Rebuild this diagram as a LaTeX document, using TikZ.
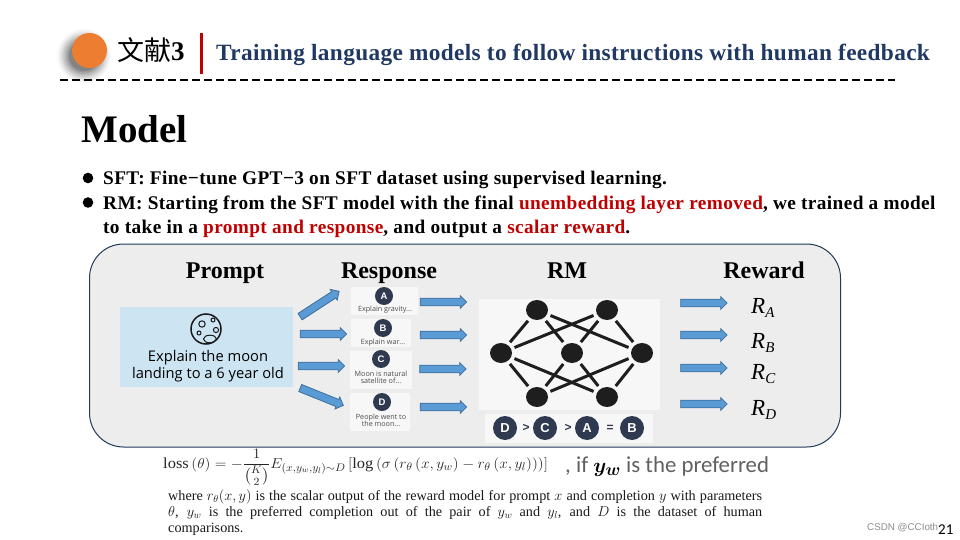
\documentclass[tikz,border=0pt]{standalone}
\usepackage{amsmath}
\usepackage{graphicx}
\usepackage{fontspec}
\setmainfont{Liberation Serif}
\newfontfamily\spacedA[LetterSpace=2]{Liberation Serif}
\newfontfamily\spacedB[LetterSpace=1.5]{Liberation Serif}
\newfontfamily\cjkfont{Noto Sans CJK SC}
\newfontfamily\uifont{Open Sans}
\newfontfamily\lightfont{Carlito}
\newfontfamily\wmfont{Liberation Sans}
\usetikzlibrary{shapes.arrows,shapes.geometric,calc}
\definecolor{navy}{HTML}{1F3864}
\definecolor{redbar}{HTML}{C00000}
\definecolor{panelfill}{HTML}{EDEDED}
\definecolor{panelline}{HTML}{1F3B57}
\definecolor{arrowfill}{HTML}{5B9BD5}
\definecolor{arrowline}{HTML}{3E6E9C}
\definecolor{cardfill}{HTML}{F7F7F7}
\definecolor{badgefill}{HTML}{2F3A50}
\definecolor{skyfill}{HTML}{CDE4F2}
\definecolor{netnode}{HTML}{1E1E1E}
\definecolor{dotorange}{HTML}{ED7D31}
\newcommand{\fs}[1]{\fontsize{#1}{#1}\selectfont}
\newcommand{\rsym}[1]{{\itshape R\raisebox{-4pt}{\fs{15}#1}}}
\tikzset{
  x=1pt,y=-1pt,
  blockarrow/.style={single arrow,draw=arrowline,fill=arrowfill,line width=.8pt,
    single arrow head extend=2.6pt,single arrow head indent=0pt,
    inner xsep=0pt,inner ysep=3.4pt,outer sep=0pt,minimum height=46.5pt},
  card/.style={fill=cardfill,draw=none,inner sep=0pt,outer sep=0pt},
  badge/.style={circle,fill=badgefill,text=white,font=\wmfont\bfseries\fs{9.5},inner sep=0pt,minimum size=18pt},
  rankbadge/.style={badge,minimum size=24pt,font=\wmfont\bfseries\fs{13}},
  rankop/.style={font=\wmfont\bfseries\fs{12},text=badgefill,inner sep=0pt},
  cardtext/.style={font=\uifont\fs{7.2},text=black!70,align=center,inner sep=0pt},
  heading/.style={anchor=base,font=\bfseries\fs{24},inner sep=0pt},
  netn/.style={ellipse,fill=netnode,minimum width=22pt,minimum height=20pt,inner sep=0pt},
  netl/.style={draw=netnode,line width=3pt,shorten >=3.5pt,shorten <=3.5pt},
  bodytext/.style={anchor=base west,font=\spacedA\bfseries\fs{19.3},inner sep=0pt},
  rlabel/.style={anchor=base west,font=\fs{23},inner sep=0pt},
}
\begin{document}
\begin{tikzpicture}
\useasboundingbox (0,0) rectangle (960,540);
\fill[white] (0,0) rectangle (960,540);
% header
\foreach \r/\o in {36/.025,34/.035,32/.045,30/.055,28/.065,26/.075,24/.085,22/.1,20/.12}
  \fill[black,opacity=\o] (84,56) circle (\r*.75);
\node[circle,fill=dotorange,minimum size=35pt,inner sep=0pt] (dot) at (89.5,50.5) {};
\node[anchor=base west,inner sep=0pt,font=\fs{27}] (lit) at (117,61) {{\cjkfont 文献}\bfseries 3};
\fill[redbar] (199.5,33) rectangle (202.5,74);
\node[anchor=base west,inner sep=0pt,text=navy,font=\spacedB\bfseries\fs{23.3}] (title) at (216,60.5) {Training language models to follow instructions with human feedback};
\draw[black,line width=2pt,dash pattern=on 8pt off 4pt] (60,80) -- (895,80);
\node[anchor=base west,inner sep=0pt,font=\bfseries\fs{39}] (model) at (81,143) {Model};
% bullets
\fill[black] (88,178) circle (5.3);
\fill[black] (88,202.5) circle (5.3);
\node[bodytext] (b1) at (103,185) {SFT: Fine−tune GPT−3 on SFT dataset using supervised learning.};
\node[bodytext] (b2) at (103,209) {RM: Starting from the SFT model with the final {\color{redbar}unembedding layer removed}, we trained a model};
\node[bodytext] (b3) at (103,233) {to take in a {\color{redbar}prompt and response}, and output a {\color{redbar}scalar reward}.};
% panel
\draw[panelline,fill=panelfill,line width=1pt,rounded corners=34pt] (89.5,244) rectangle (840.5,447);
\node[heading] (hp) at (225,278) {Prompt};
\node[heading] (hr) at (389,278) {Response};
\node[heading] (hm) at (567,278) {RM};
\node[heading] (hw) at (764,278) {Reward};
% prompt
\fill[skyfill] (120,307) rectangle (293,387);
\draw[black!90,line width=1.5pt] (206,329) circle (15);
\draw[black!90,line width=1pt] (202,324) circle (3.2) (216,330) circle (2.6) (199,333) circle (2) (213,320) circle (2);
\begin{scope}
  \clip (206,329) circle (15);
  \draw[black!90,line width=1pt] (210,339) ellipse (6.5 and 3.8);
\end{scope}
\node[anchor=base,font=\uifont\fs{14.7},inner sep=0pt] (p1) at (208,361) {Explain the moon};
\node[anchor=base,font=\uifont\fs{14.7},inner sep=0pt] (p2) at (208,378) {landing to a 6 year old};
% cards
\fill[card] (351,287) rectangle (418,315);
\fill[card] (351,319) rectangle (411,347);
\fill[card] (350,351) rectangle (412,389);
\fill[card] (350,393) rectangle (410,431);
\node[badge] (ba) at (384,296) {A};
\node[badge] (bb) at (383,328) {B};
\node[badge] (bc) at (381,359) {C};
\node[badge] (bd) at (382,402) {D};
\node[cardtext] (ta) at (385,310) {Explain gravity...};
\node[cardtext] (tb) at (383,342.5) {Explain war...};
\node[cardtext] (tc) at (381,377) {\fontsize{7.2}{8.2}\selectfont Moon is natural\\satellite of...};
\node[cardtext] (td) at (381,420.5) {\fontsize{7.2}{8.2}\selectfont People went to\\the moon...};
% arrows prompt -> responses
\node[blockarrow,rotate=33] (a1) at (318,305) {};
\node[blockarrow] (a2) at (321.5,334) {};
\node[blockarrow] (a3) at (319.5,366) {};
\node[blockarrow,rotate=-22] (a4) at (320,396) {};
% arrows responses -> RM
\node[blockarrow] (a5) at (441.5,302) {};
\node[blockarrow] (a6) at (441.5,335) {};
\node[blockarrow] (a7) at (441,369) {};
\node[blockarrow] (a8) at (441.5,407) {};
% RM network
\fill[card] (479,299) rectangle (660,410);
\node[netn] (n1) at (537,310) {};
\node[netn] (n2) at (607,310) {};
\node[netn] (n3) at (501,353) {};
\node[netn] (n4) at (572,353) {};
\node[netn] (n5) at (642,353) {};
\node[netn] (n6) at (537,397) {};
\node[netn] (n7) at (607,397) {};
\foreach \a/\b in {n1/n3,n1/n4,n1/n5,n2/n3,n2/n4,n2/n5,n3/n6,n3/n7,n4/n6,n4/n7,n5/n6,n5/n7}
  \draw[netl] (\a) -- (\b);
% ranking
\fill[card] (485,414) rectangle (653,443);
\node[rankbadge] (r1) at (505,428) {D};
\node[rankop] (o1) at (526,428) {>};
\node[rankbadge] (r2) at (545,428) {C};
\node[rankop] (o2) at (568,428) {>};
\node[rankbadge] (r3) at (587,428) {A};
\node[rankop] (o3) at (610,428) {=};
\node[rankbadge] (r4) at (632,428) {B};
% arrows RM -> reward
\node[blockarrow] (a9) at (702,303) {};
\node[blockarrow] (a10) at (702,335) {};
\node[blockarrow] (a11) at (702,368) {};
\node[blockarrow] (a12) at (702,404) {};
\node[rlabel] (ra) at (751,313) {\rsym{A}};
\node[rlabel] (rb) at (751,348) {\rsym{B}};
\node[rlabel] (rc) at (751,379) {\rsym{C}};
\node[rlabel] (rd) at (751,415) {\rsym{D}};
% formula
\node[anchor=base west,inner sep=0pt,text=black!85,font=\fs{15.4}] (loss) at (163,468)
  {\scalebox{1.07}[1]{$\operatorname{loss}\left(\theta\right)=-\dfrac{1}{\binom{K}{2}}E_{(x,y_w,y_l)\sim D}\left[\log\left(\sigma\left(r_\theta\left(x,y_w\right)-r_\theta\left(x,y_l\right)\right)\right)\right]$}};
\node[anchor=base west,inner sep=0pt,text=black!62,font=\lightfont\fs{22.8}] (pref) at (565,472)
  {, if {\color{black}$\boldsymbol{y_w}$} is the preferred};
\node[anchor=north west,inner sep=0pt,text=black!90,font=\fs{14.2}] (para) at (168,489)
  {\parbox{594pt}{\fontsize{14.2}{16}\selectfont where $r_\theta(x,y)$ is the scalar output of the reward model for prompt $x$ and completion $y$ with parameters\linebreak $\theta$, $y_w$ is the preferred completion out of the pair of $y_w$ and $y_l$, and $D$ is the dataset of human\linebreak comparisons.}};
% footer
\node[anchor=base west,inner sep=0pt,text=black!45,font=\wmfont\fs{9.8}] (wm) at (867,530) {CSDN @CCIoth};
\node[anchor=base west,inner sep=0pt,font=\lightfont\fs{15}] (pg) at (938,534) {21};
\end{tikzpicture}
\end{document}
